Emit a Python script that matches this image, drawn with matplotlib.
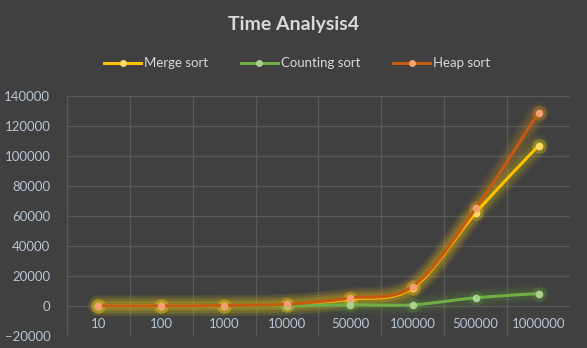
import numpy as np
import matplotlib.pyplot as plt
from matplotlib.path import Path
from matplotlib.patches import PathPatch
from matplotlib.lines import Line2D

plt.rcParams['font.family'] = ['Lato', 'DejaVu Sans']

sizes = ['10', '100', '1000', '10000', '50000', '100000', '500000', '1000000']
merge_sort = [0, 0, 100, 800, 4500, 12000, 62000, 107000]
counting_sort = [0, 0, 0, 100, 700, 700, 5400, 8200]
heap_sort = [0, 0, 200, 1100, 5200, 12900, 65000, 129000]

# name, values, line colour, marker colour, glow colour, glow strength
series = [
    ('Merge sort', merge_sort, '#ffc000', '#ffd966', '#d8cc10', 1.0),
    ('Counting sort', counting_sort, '#70ad47', '#a9d18e', '#6fbf3a', 0.6),
    ('Heap sort', heap_sort, '#c55a11', '#f4a070', '#e09a20', 0.9),
]

bg = '#404040'
grid = '#595959'
text_col = '#d9d9d9'
tick_col = '#b8c4d4'


def smooth_path(xs, ys):
    # excel-like smoothed line: catmull-rom segments as cubic beziers
    pts = np.column_stack([xs, ys]).astype(float)
    verts = [pts[0]]
    codes = [Path.MOVETO]
    n = len(pts)
    for i in range(n - 1):
        p0 = pts[max(i - 1, 0)]
        p1 = pts[i]
        p2 = pts[i + 1]
        p3 = pts[min(i + 2, n - 1)]
        c1 = p1 + (p2 - p0) / 6
        c2 = p2 - (p3 - p1) / 6
        verts += [c1, c2, p2]
        codes += [Path.CURVE4] * 3
    return Path(verts, codes)


fig = plt.figure(figsize=(5.87, 3.48), dpi=100, facecolor=bg)
ax = fig.add_axes([0.114, 0.035, 0.857, 0.689], facecolor=bg)

x = np.arange(len(sizes))

# glows first (counting underneath)
for k in [1, 0, 2]:
    name, vals, col, mcol, glow, g = series[k]
    p = smooth_path(x, vals)
    for w, a in [(15, 0.08), (11, 0.10), (7, 0.14)]:
        ax.add_patch(PathPatch(p, fill=False, edgecolor=glow, lw=w, alpha=a * g,
                               capstyle='round', joinstyle='round', zorder=2))
    ax.scatter(x, vals, s=110, color=glow, alpha=0.3 * g, lw=0, zorder=2)

for k, (name, vals, col, mcol, glow, g) in enumerate(series):
    p = smooth_path(x, vals)
    ax.add_patch(PathPatch(p, fill=False, edgecolor=col, lw=2.2,
                           capstyle='round', zorder=3 + k))
    ax.plot(x, vals, ls='none', marker='o', ms=4.5, mfc=mcol, mec=mcol,
            zorder=3.5 + k)

ax.set_xlim(-0.5, len(sizes) - 0.5)
ax.set_ylim(-20000, 140000)
ax.set_yticks(np.arange(-20000, 140001, 20000))
ax.set_xticks(x)
ax.set_xticklabels(sizes)
ax.set_xticks(np.arange(-0.5, len(sizes), 1), minor=True)
ax.grid(True, which='minor', axis='x', color=grid, lw=0.9)
ax.grid(True, which='major', axis='y', color=grid, lw=0.9)
ax.set_axisbelow(True)

for s in ['top', 'right']:
    ax.spines[s].set_visible(False)
ax.spines['left'].set_color(grid)
ax.spines['bottom'].set_position(('data', 0))
ax.spines['bottom'].set_visible(False)
ax.tick_params(axis='both', which='both', length=0, colors=tick_col, labelsize=9.5)
ax.tick_params(axis='x', pad=9)
ax.tick_params(axis='y', pad=12)

fig.text(0.5, 0.93, 'Time Analysis4', ha='center', va='center',
         fontsize=14, fontweight='bold', color=text_col)

handles = [Line2D([], [], color=s[2], lw=2.2, marker='o', ms=4, mfc=s[3], mec=s[3])
           for s in series]
fig.legend(handles, [s[0] for s in series], loc='center', ncol=3,
           bbox_to_anchor=(0.506, 0.818), frameon=False, fontsize=9.5,
           labelcolor=text_col, handlelength=2.8, handletextpad=0.2,
           columnspacing=2.5)

fig.savefig('out.png', dpi=100, facecolor=bg)
